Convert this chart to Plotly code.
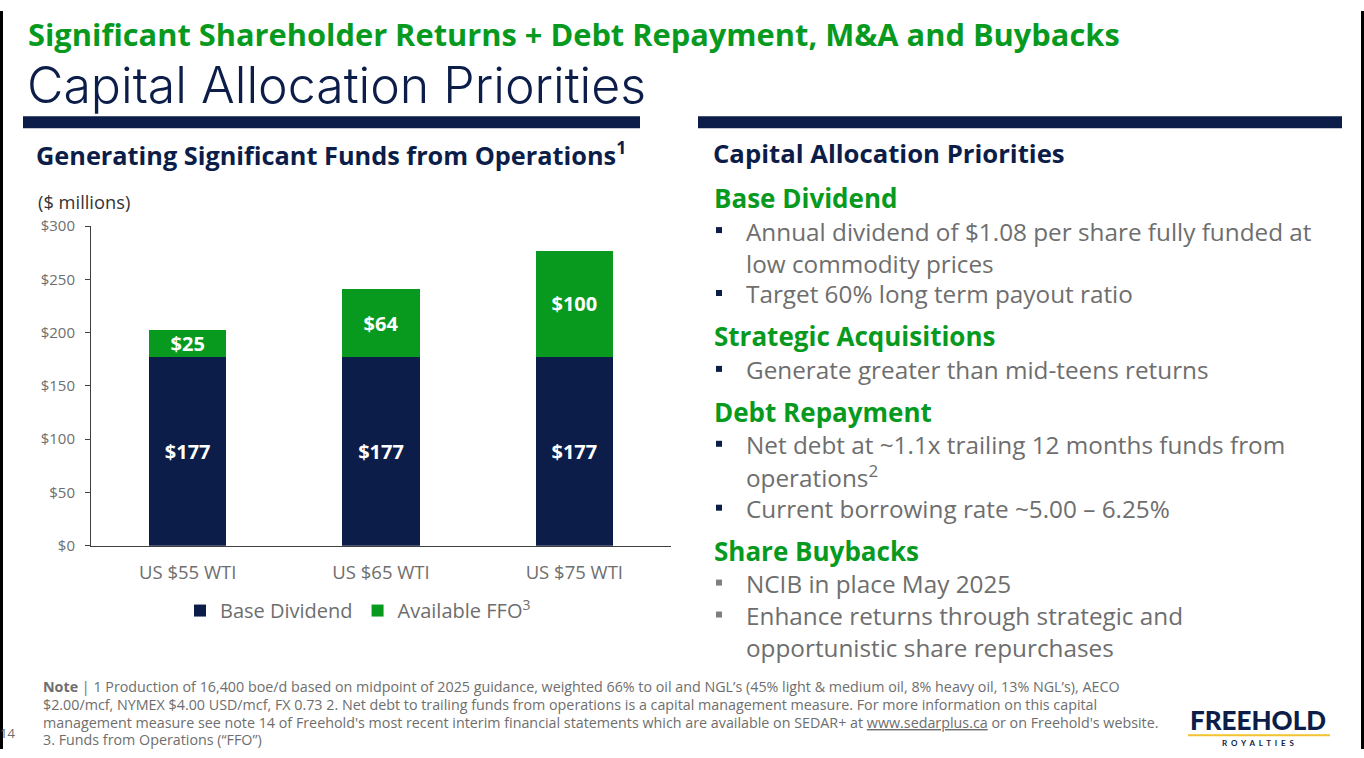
import plotly.graph_objects as go

W, H = 1364, 758
categories = ["US $55 WTI", "US $65 WTI", "US $75 WTI"]
base_dividend = [177, 177, 177]
available_ffo = [25, 64, 100]
y_ticks = [0, 50, 100, 150, 200, 250, 300]
y_tick_labels = ["$0", "$50", "$100", "$150", "$200", "$250", "$300"]

NAVY = "#0B1D48"
GREEN = "#079A1E"
GREY = "#6E6E6E"
FONT = "Open Sans"

# the page is photographed slightly squeezed vertically; compensate
S_OFF, S_SCALE = 9.6, 0.975


def px(x):
    return x / W


def py(y):
    return 1 - ((y - S_OFF) / S_SCALE) / H


fig = go.Figure()
fig.add_trace(go.Bar(
    x=categories, y=base_dividend, name="Base Dividend",
    marker=dict(color=NAVY, line=dict(width=0)),
    text=["$" + str(v) for v in base_dividend], texttemplate="%{text}",
    textposition="inside", insidetextanchor="middle", constraintext="none",
    textfont=dict(color="white", size=20, family=FONT, weight="bold"),
))
fig.add_trace(go.Bar(
    x=categories, y=available_ffo, name="Available FFO<sup>3</sup>",
    marker=dict(color=GREEN, line=dict(width=0)),
    text=["$" + str(v) for v in available_ffo], texttemplate="%{text}",
    textposition="inside", insidetextanchor="middle", constraintext="none",
    textfont=dict(color="white", size=20, family=FONT, weight="bold"),
))

fig.update_layout(
    width=W, height=H, barmode="stack", bargap=0.6,
    margin=dict(l=0, r=0, t=0, b=0),
    paper_bgcolor="white", plot_bgcolor="white",
    font=dict(family=FONT, color=GREY),
    showlegend=True,
    legend=dict(orientation="h", x=px(358), xanchor="center", y=py(610), yanchor="middle",
                font=dict(size=20, color=GREY, family=FONT), traceorder="normal",
                itemwidth=30, bgcolor="rgba(0,0,0,0)"),
    xaxis=dict(domain=[px(91), px(671)], showline=True, linecolor="#404040", linewidth=1,
               ticks="", tickfont=dict(size=18.5, color=GREY, family=FONT),
               ticklabelstandoff=10, showgrid=False, zeroline=False, fixedrange=True),
    yaxis=dict(domain=[py(545), py(225)], range=[0, 300], tickmode="array",
               tickvals=y_ticks, ticktext=y_tick_labels,
               showline=True, linecolor="#404040", linewidth=1,
               ticks="outside", ticklen=5, tickcolor="#404040",
               tickfont=dict(size=15, color=GREY, family=FONT), ticklabelstandoff=7,
               showgrid=False, zeroline=False, fixedrange=True),
)

shapes = []
# header bars
shapes.append(dict(type="rect", xref="paper", yref="paper", x0=px(23), x1=px(640), y0=py(127), y1=py(115),
                   fillcolor=NAVY, line=dict(width=0)))
shapes.append(dict(type="rect", xref="paper", yref="paper", x0=px(698), x1=px(1342), y0=py(127), y1=py(115),
                   fillcolor=NAVY, line=dict(width=0)))
# black frame (sides)
for (x0, x1) in [(0, 3), (W - 3, W)]:
    shapes.append(dict(type="rect", xref="paper", yref="paper", x0=px(x0), x1=px(x1), y0=0, y1=1,
                       fillcolor="black", line=dict(width=0)))

annotations = []


def txt(x, y, text, size, color, weight="normal", anchor="left", family=FONT):
    annotations.append(dict(xref="paper", yref="paper", x=px(x), y=py(y), text=text,
                            showarrow=False, xanchor=anchor, yanchor="middle",
                            font=dict(size=size, color=color, family=family, weight=weight)))


txt(26, 33, "Significant Shareholder Returns + Debt Repayment, M&A and Buybacks", 30.8, GREEN, "bold")
txt(25, 84, "Capital Allocation Priorities", 50, NAVY, 300, family="Inter")
txt(34, 152, "Generating Significant Funds from Operations<sup>1</sup>", 25.3, NAVY, "bold")
txt(36, 200, "($ millions)", 18.3, "#333333")
txt(711, 152, "Capital Allocation Priorities", 25.7, NAVY, "bold")

sections = [
    ("Base Dividend", 197, NAVY, [(230, "Annual dividend of $1.08 per share fully funded at", True),
                                  (262, "low commodity prices", False),
                                  (293, "Target 60% long term payout ratio", True)]),
    ("Strategic Acquisitions", 335, NAVY, [(369, "Generate greater than mid-teens returns", True)]),
    ("Debt Repayment", 411, NAVY, [(444, "Net debt at ~1.1x trailing 12 months funds from", True),
                                   (476, "operations<sup>2</sup>", False),
                                   (508, "Current borrowing rate ~5.00 \u2013 6.25%", True)]),
    ("Share Buybacks", 550, "#7F7F7F", [(583, "NCIB in place May 2025", True),
                                        (615, "Enhance returns through strategic and", True),
                                        (647, "opportunistic share repurchases", False)]),
]
for head, hy, bcol, lines in sections:
    txt(712, hy, head, 26, GREEN, "bold")
    for ly, t, bullet in lines:
        txt(744, ly, t, 24.3, GREY)
        if bullet:
            shapes.append(dict(type="rect", xref="paper", yref="paper", x0=px(716), x1=px(722),
                               y0=py(ly + 2), y1=py(ly - 4), fillcolor=bcol, line=dict(width=0)))

foot = [
    (686, "<b>Note</b> | 1 Production of 16,400 boe/d based on midpoint of 2025 guidance, weighted 66% to oil and NGL\u2019s (45% light & medium oil, 8% heavy oil, 13% NGL\u2019s), AECO"),
    (704, "$2.00/mcf, NYMEX $4.00 USD/mcf, FX 0.73 2. Net debt to trailing funds from operations is a capital management measure. For more information on this capital"),
    (722, "management measure see note 14 of Freehold's most recent interim financial statements which are available on SEDAR+ at <u>www.sedarplus.ca</u> or on Freehold's website."),
    (739, "3. Funds from Operations (\u201cFFO\u201d)"),
]
for fy, t in foot:
    txt(41, fy, t, 14.3, GREY)
txt(-2, 733, "14", 13, GREY)

# logo
txt(1258, 720, "FREEHOLD", 26, NAVY, 900, anchor="center", family="Lato")
shapes.append(dict(type="rect", xref="paper", yref="paper", x0=px(1188), x1=px(1330), y0=py(736), y1=py(734),
                   fillcolor="#F2C230", line=dict(width=0)))
txt(1258, 743, "R\u00a0\u00a0O\u00a0\u00a0Y\u00a0\u00a0A\u00a0\u00a0L\u00a0\u00a0T\u00a0\u00a0I\u00a0\u00a0E\u00a0\u00a0S",
    8, NAVY, "bold", anchor="center", family="Lato")

fig.update_layout(shapes=shapes, annotations=annotations)
fig.write_html("out.html")
